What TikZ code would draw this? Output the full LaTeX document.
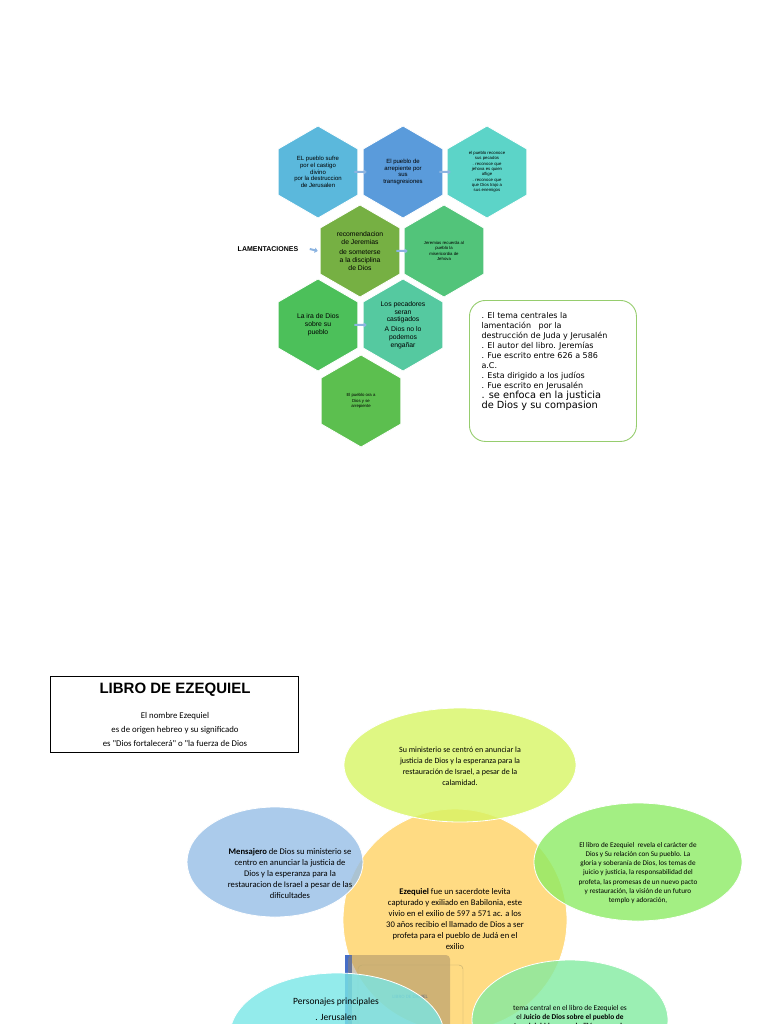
\documentclass[tikz,border=0pt]{standalone}
\usepackage{fontspec}
\setmainfont{Liberation Sans}
\newfontfamily\carl{Carlito}
\newfontfamily\dv{DejaVu Sans}
\usetikzlibrary{shapes.geometric,arrows.meta}
\definecolor{cA}{RGB}{91,184,220}
\definecolor{cB}{RGB}{90,155,219}
\definecolor{cC}{RGB}{92,212,200}
\definecolor{cD}{RGB}{118,176,67}
\definecolor{cE}{RGB}{82,196,122}
\definecolor{cF}{RGB}{76,192,90}
\definecolor{cG}{RGB}{85,201,160}
\definecolor{cH}{RGB}{92,191,79}
\definecolor{arr}{RGB}{140,180,225}
\definecolor{boxg}{RGB}{150,205,110}
\definecolor{eY}{RGB}{255,210,100}
\definecolor{eT}{RGB}{215,245,100}
\definecolor{eL}{RGB}{150,190,230}
\definecolor{eR}{RGB}{140,236,100}
\definecolor{eBL}{RGB}{120,230,230}
\definecolor{eBR}{RGB}{130,235,160}
\definecolor{dB}{RGB}{70,110,200}
\definecolor{dBr}{RGB}{150,130,100}
\definecolor{dO}{RGB}{190,170,110}
\begin{document}
\begin{tikzpicture}[x=1pt,y=-1pt,
 hexa/.style={regular polygon,regular polygon sides=6,shape border rotate=30,minimum size=92pt,inner sep=0pt,draw=white,line width=0.8pt,fill=#1,align=center,font=\fontsize{6}{6.8}\selectfont},
 sarrow/.style={-{Triangle[length=3pt,width=5pt]},draw=arr,line width=2pt},
 ell/.style={ellipse,draw=white,line width=0.8pt,fill=#1,fill opacity=0.8,text opacity=1,align=center,inner sep=0pt},
 etxt/.style={align=center,font=\carl\fontsize{8}{11}\selectfont}]
\useasboundingbox[fill=white] (0,0) rectangle (768,1024);
\node[hexa=cA] (h1) at (318,172) {EL pueblo sufre\\por el castigo\\divino\\por la destruccion\\de Jerusalen};
\node[hexa=cB] (h2) at (403,172) {El pueblo de\\arrepiente por\\sus\\transgresiones};
\node[hexa=cC,font=\fontsize{4.3}{4.9}\selectfont] (h3) at (487,172) {el pueblo reconoce\\sus pecados\\[1pt] . reconoce que\\jehova es quien\\aflige\\[1pt] . reconoce que\\que Dios trajo a\\sus enemigos};
\node[hexa=cD,font=\fontsize{6.8}{7.8}\selectfont] (h4) at (360,251) {recomendacion\\de Jeremias\\[2pt] de someterse\\a la disciplina\\de Dios};
\node[hexa=cE,font=\fontsize{4.3}{5.3}\selectfont] (h5) at (444,251) {Jeremias recuerda al\\pueblo la\\misericordia de\\Jehova};
\node[hexa=cF,font=\fontsize{6.8}{7.8}\selectfont] (h6) at (318,325) {La ira de Dios\\sobre su\\pueblo};
\node[hexa=cG,font=\fontsize{6.8}{7.8}\selectfont] (h7) at (403,325) {Los pecadores\\seran\\castigados\\[2pt] A Dios no lo\\podemos\\engañar};
\node[hexa=cH,font=\fontsize{4.3}{5.3}\selectfont] (h8) at (361,401) {El pueblo ora a\\Dios y se\\arrepiente};
\node[font=\bfseries\fontsize{7}{8}\selectfont] (lam) at (268,249) {LAMENTACIONES};
\coordinate (la) at ([xshift=8pt]lam.east);
\draw[sarrow] ([xshift=-4pt]h1.east) -- ([xshift=4pt]h2.west);
\draw[sarrow] ([xshift=-4pt]h2.east) -- ([xshift=4pt]h3.west);
\draw[sarrow] (la) -- ([xshift=-2pt]h4.west);
\draw[sarrow] ([xshift=-4pt]h4.east) -- ([xshift=4pt]h5.west);
\draw[sarrow] ([xshift=-4pt]h6.east) -- ([xshift=4pt]h7.west);
\node[draw=boxg,line width=0.9pt,rounded corners=16pt,minimum width=167pt,minimum height=141pt,anchor=north west,inner sep=0pt] (tb) at (469,300) {};
\node[anchor=north west,align=left,font=\dv\fontsize{8}{10}\selectfont] (tt) at (478,309) {. El tema centrales la\\lamentación \ \ por la\\destrucción de Juda y Jerusalén\\. El autor del libro. Jeremías\\. Fue escrito entre 626 a 586\\a.C.\\. Esta dirigido a los judíos\\. Fue escrito en Jerusalén\\{\fontsize{9.8}{12}\selectfont . se enfoca en la justicia}\\{\fontsize{9.8}{12}\selectfont de Dios y su compasion}};
% bottom
\node[draw,line width=0.6pt,minimum width=248pt,minimum height=76pt,anchor=north west,inner sep=0pt] (box) at (50,676) {};
\node[font=\bfseries\fontsize{15}{17}\selectfont] (tit) at (175,690) {LIBRO DE EZEQUIEL};
\node[align=center,font=\carl\fontsize{8.8}{14}\selectfont] (nom) at (175,729) {El nombre Ezequiel\\es de origen hebreo y su significado\\es "Dios fortalecerá" o "la fuerza de Dios};
\node[ell=eY,minimum width=224pt,minimum height=222pt] (c) at (455,920) {};
\node[ell=eT,minimum width=232pt,minimum height=114pt] (t) at (460,765) {};
\node[ell=eL,minimum width=176pt,minimum height=110pt] (l) at (275,862) {};
\node[ell=eR,minimum width=208pt,minimum height=118pt] (r) at (638,862) {};
\fill[dB] (345,955) rectangle (352,1024);
\fill[dBr,opacity=0.45,rounded corners=4pt] (348,955) rectangle (450,1030);
\draw[dO,rounded corners=4pt] (358,965) rectangle (463,1030);
\node[font=\carl\bfseries\fontsize{5}{6}\selectfont,text=gray] (dan) at (410,997) {LIBRO DE DANIEL};
\node[ell=eBL,minimum width=214pt,minimum height=124pt] (bl) at (337,1035) {};
\node[ell=eBR,minimum width=196pt,minimum height=120pt] (br) at (570,1020) {};
\node[etxt] (tt1) at (460,766) {Su ministerio se centró en anunciar la\\justicia de Dios y la esperanza para la\\restauración de Israel, a pesar de la\\calamidad.};
\node[etxt,font=\carl\fontsize{8.6}{11}\selectfont] (tc) at (455,919) {\textbf{Ezequiel} fue un sacerdote levita\\capturado y exiliado en Babilonia, este\\vivio en el exilio de 597 a 571 ac. a los\\30 años recibio el llamado de Dios a ser\\profeta para el pueblo de Judá en el\\exilio};
\node[etxt,font=\carl\fontsize{8.6}{11}\selectfont] (tl) at (290,874) {\textbf{Mensajero} de Dios su ministerio se\\centro en anunciar la justicia de\\Dios y la esperanza para la\\restauracion de Israel a pesar de las\\dificultades};
\node[etxt,font=\carl\fontsize{7.2}{9.3}\selectfont] (tr) at (638,873) {El libro de Ezequiel\ \ revela el carácter de\\Dios y Su relación con Su pueblo. La\\gloria y soberanía de Dios, los temas de\\juicio y justicia, la responsabilidad del\\profeta, las promesas de un nuevo pacto\\y restauración, la visión de un futuro\\templo y adoración,};
\node[anchor=north,align=center,font=\carl\fontsize{9.5}{16}\selectfont] (tbl) at (336,994) {Personajes principales\\. Jerusalen};
\node[anchor=north,align=center,font=\carl\fontsize{7.4}{9}\selectfont] (tbr) at (570,1002) {tema central en el libro de Ezequiel es\\el \textbf{Juicio de Dios sobre el pueblo de}\\\textbf{Israel debido a su rebellión y pecado}};
\end{tikzpicture}
\end{document}
